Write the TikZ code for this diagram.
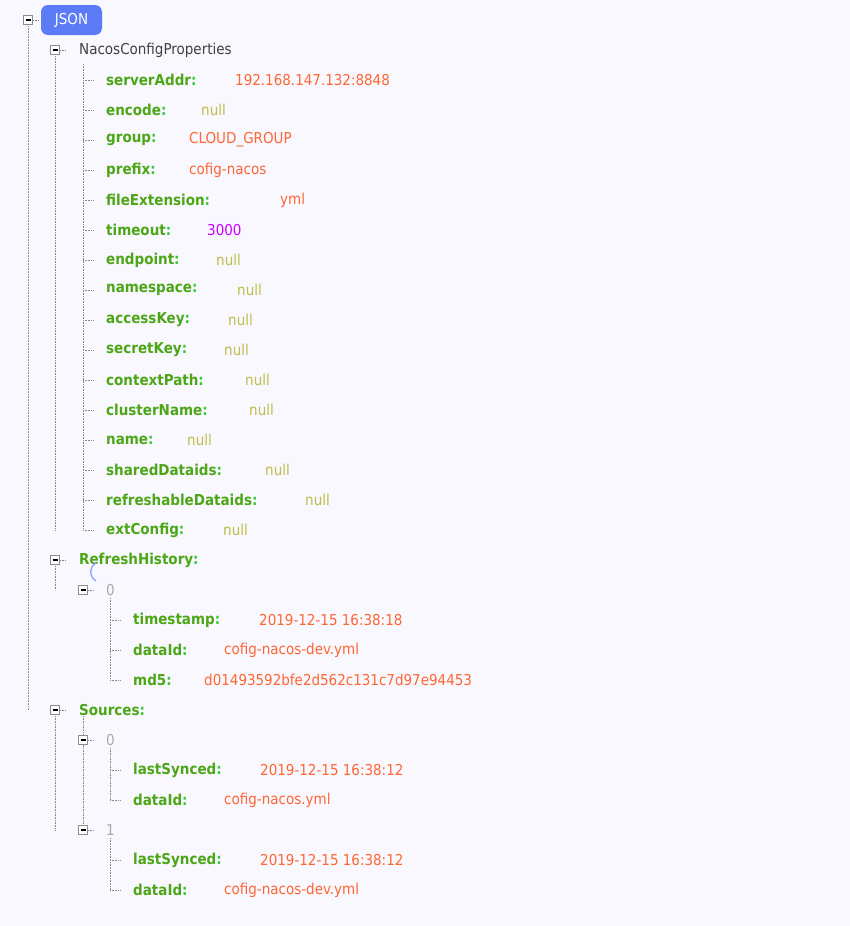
\documentclass[tikz,border=0pt]{standalone}
\usepackage{fontspec}
\setmainfont{DejaVu Sans Condensed}
\usetikzlibrary{calc}
\definecolor{bg}{HTML}{F8F8FE}
\definecolor{keyc}{HTML}{4CA616}
\definecolor{colc}{HTML}{33CC33}
\definecolor{valc}{HTML}{FF6633}
\definecolor{nullc}{HTML}{BDBD4A}
\definecolor{numc}{HTML}{CC00FF}
\definecolor{idxc}{HTML}{AAAAAA}
\definecolor{badge}{HTML}{5B7CF6}
\definecolor{dotc}{HTML}{888888}
\tikzset{
 every node/.style={inner sep=0pt,anchor=west},
 txt/.style={font=\fontsize{15}{15}\selectfont},
 keyn/.style={text=keyc,font=\fontsize{15}{15}\selectfont\bfseries},
 valn/.style={txt,text=valc},
 nulln/.style={txt,text=nullc},
 numn/.style={txt,text=numc},
 idxn/.style={txt,text=idxc},
 plain/.style={txt,text=black!75},
 dotl/.style={draw=dotc,densely dotted,line width=0.6pt},
 minusbox/.style={draw=black!45,fill=white,minimum size=9pt,anchor=center,line width=0.8pt},
}
\newcommand{\mybox}[3]{\node[minusbox] (#1) at (#2,#3) {};
 \draw[line width=1.2pt] ($(#1.center)+(-2.5,0)$) -- ($(#1.center)+(2.5,0)$);
 \draw[dotl] (#1.east) -- ++(5,0);}
\newcommand{\leaf}[7]{\draw[dotl] (#2,#3) -- (#2+10,#3);
 \node[keyn] (#1k) at (#2+23,#3) {#4\textcolor{colc}{ :}};
 \node[#6] (#1v) at (#5,#3) {#7};}
\begin{document}
\begin{tikzpicture}[x=1pt,y=-1pt]
\fill[bg] (0,0) rectangle (850,926);
\useasboundingbox (0,0) rectangle (850,926);
% vertical guide lines
\draw[dotl] (28,26) -- (28,710);
\draw[dotl] (55,56) -- (55,530);
\draw[dotl] (83,64) -- (83,530);
\draw[dotl] (55,566) -- (55,590);
\draw[dotl] (110,598) -- (110,680);
\draw[dotl] (55,716) -- (55,830);
\draw[dotl] (83,716) -- (83,830);
\draw[dotl] (110,748) -- (110,800);
\draw[dotl] (110,838) -- (110,890);
% root
\mybox{b0}{28}{20}
\node[fill=badge,rounded corners=7pt,minimum width=61pt,minimum height=30pt,anchor=center,text=white,font=\fontsize{15}{15}\selectfont] (root) at (71.5,20) {JSON};
% NacosConfigProperties
\mybox{b1}{55}{50}
\node[plain] (ncp) at (79,50) {NacosConfigProperties};
\leaf{a}{83}{80}{serverAddr}{235}{valn}{192.168.147.132:8848}
\leaf{b}{83}{110}{encode}{201}{nulln}{null}
\leaf{c}{83}{140}{group}{189}{valn}{CLOUD\_GROUP}
\leaf{d}{83}{170}{prefix}{189}{valn}{cofig-nacos}
\leaf{e}{83}{200}{fileExtension}{280}{valn}{yml}
\leaf{f}{83}{230}{timeout}{207}{numn}{3000}
\leaf{g}{83}{260}{endpoint}{216}{nulln}{null}
\leaf{h}{83}{290}{namespace}{237}{nulln}{null}
\leaf{i}{83}{320}{accessKey}{228}{nulln}{null}
\leaf{j}{83}{350}{secretKey}{224}{nulln}{null}
\leaf{k}{83}{380}{contextPath}{245}{nulln}{null}
\leaf{l}{83}{410}{clusterName}{249}{nulln}{null}
\leaf{m}{83}{440}{name}{187}{nulln}{null}
\leaf{n}{83}{470}{sharedDataids}{265}{nulln}{null}
\leaf{o}{83}{500}{refreshableDataids}{305}{nulln}{null}
\leaf{p}{83}{530}{extConfig}{223}{nulln}{null}
% RefreshHistory
\mybox{b2}{55}{560}
\node[keyn] (rh) at (79,560) {RefreshHistory\textcolor{colc}{ :}};
\mybox{b3}{83}{590}
\draw[draw=badge!70,line width=1.3pt] (96,581) arc[start angle=120,end angle=240,radius=10.5];
\node[idxn] (rh0) at (106,590) {0};
\leaf{q}{110}{620}{timestamp}{259}{valn}{2019-12-15 16:38:18}
\leaf{r}{110}{650}{dataId}{224}{valn}{cofig-nacos-dev.yml}
\leaf{s}{110}{680}{md5}{204}{valn}{d01493592bfe2d562c131c7d97e94453}
% Sources
\mybox{b4}{55}{710}
\node[keyn] (src) at (79,710) {Sources\textcolor{colc}{ :}};
\mybox{b5}{83}{740}
\node[idxn] (s0) at (106,740) {0};
\leaf{t}{110}{770}{lastSynced}{260}{valn}{2019-12-15 16:38:12}
\leaf{u}{110}{800}{dataId}{224}{valn}{cofig-nacos.yml}
\mybox{b6}{83}{830}
\node[idxn] (s1) at (106,830) {1};
\leaf{v}{110}{860}{lastSynced}{260}{valn}{2019-12-15 16:38:12}
\leaf{w}{110}{890}{dataId}{224}{valn}{cofig-nacos-dev.yml}
\end{tikzpicture}
\end{document}
